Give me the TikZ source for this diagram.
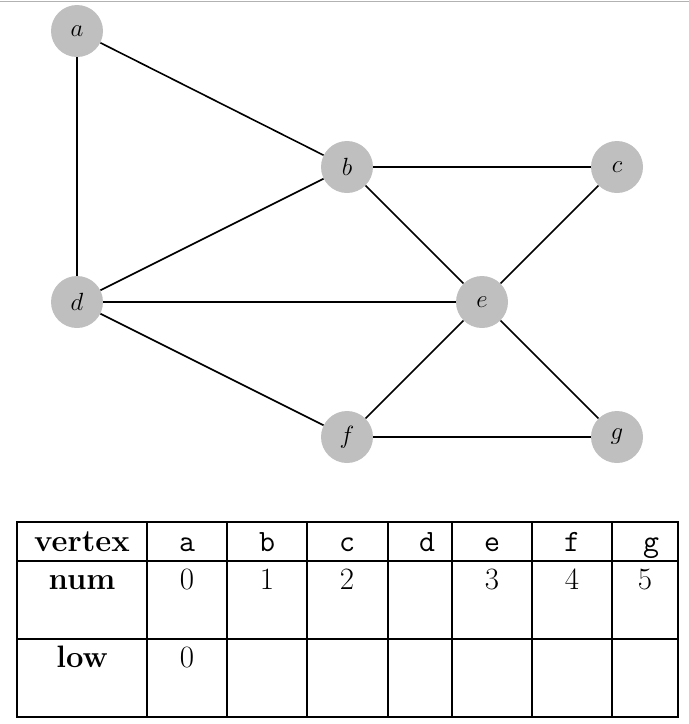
\documentclass[tikz,border=0pt]{standalone}
\begin{document}
\begin{tikzpicture}[x=1pt,y=-1pt,
 vtx/.style={circle,fill=black!25,minimum size=52pt,inner sep=0pt,font=\fontsize{34}{38}\selectfont},
 edge/.style={line width=1.6pt},
 cell/.style={anchor=base,font=\fontsize{31}{36}\selectfont},
 grid/.style={line width=1.4pt}]
\useasboundingbox (0,0) rectangle (689,724);
\draw[black!30,line width=1pt] (0,1) -- (689,1);
\node[vtx] (a) at (77,31) {$a$};
\node[vtx] (b) at (347,167) {$b$};
\node[vtx] (c) at (617,167) {$c$};
\node[vtx] (d) at (77,302) {$d$};
\node[vtx] (e) at (482,302) {$e$};
\node[vtx] (f) at (347,437) {$f$};
\node[vtx] (g) at (617,437) {$g$};
\draw[edge] (a)--(b) (a)--(d) (b)--(c) (b)--(d) (b)--(e) (c)--(e) (d)--(e) (d)--(f) (e)--(f) (e)--(g) (f)--(g);
% table
\draw[grid] (17,522) rectangle (678,717);
\draw[grid] (17,561)--(678,561) (17,639)--(678,639);
\foreach \x in {147,227,307,388,452,532,612} \draw[grid] (\x,522)--(\x,717);
\node[cell] (h0) at (82,551) {\bfseries vertex};
\node[cell] (h1) at (187,551) {\ttfamily a};
\node[cell] (h2) at (267,551) {\ttfamily b};
\node[cell] (h3) at (347,551) {\ttfamily c};
\node[cell] (h4) at (427,551) {\ttfamily d};
\node[cell] (h5) at (492,551) {\ttfamily e};
\node[cell] (h6) at (572,551) {\ttfamily f};
\node[cell] (h7) at (651,551) {\ttfamily g};
\node[cell] (n0) at (82,589) {\bfseries num};
\node[cell] (n1) at (187,589) {0};
\node[cell] (n2) at (267,589) {1};
\node[cell] (n3) at (347,589) {2};
\node[cell] (n5) at (492,589) {3};
\node[cell] (n6) at (572,589) {4};
\node[cell] (n7) at (645,589) {5};
\node[cell] (l0) at (82,667) {\bfseries low};
\node[cell] (l1) at (187,667) {0};
\end{tikzpicture}
\end{document}
